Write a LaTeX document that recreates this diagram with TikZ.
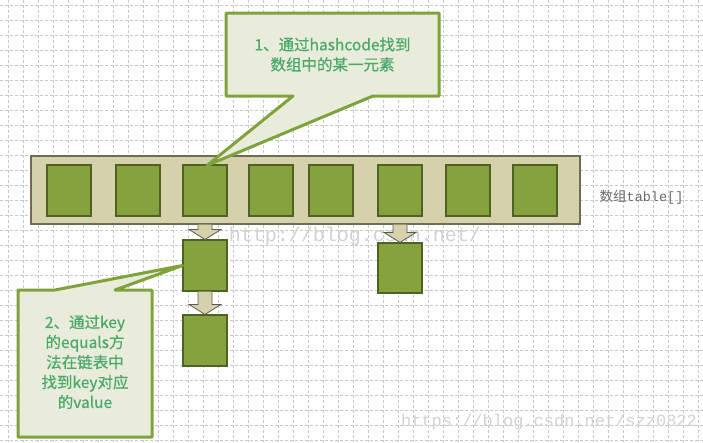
\documentclass[tikz,border=0pt]{standalone}
\usepackage{fontspec}
\newfontfamily\cjk{Noto Sans CJK SC}
\newfontfamily\cjkb[FakeBold=0.6]{Noto Sans CJK SC}
\newfontfamily\lmono{Liberation Mono}
\usetikzlibrary{calc}
\definecolor{gridc}{HTML}{C8C8C8}
\definecolor{tanfill}{HTML}{D5D2AB}
\definecolor{tanline}{HTML}{6E6C55}
\definecolor{cellfill}{HTML}{85A23F}
\definecolor{cellline}{HTML}{4E6222}
\definecolor{callfill}{HTML}{E9ECDA}
\definecolor{callline}{HTML}{7FA33B}
\definecolor{calltext}{HTML}{4AA96A}
\definecolor{labeltext}{HTML}{6A6A6A}
\definecolor{wmtext}{HTML}{D2D2D2}
\tikzset{
  gridline/.style={draw=gridc, line width=0.8pt, dash pattern=on 3pt off 2pt},
  arraybox/.style={rectangle, draw=tanline, fill=tanfill, line width=1.2pt, inner sep=0pt},
  cell/.style={rectangle, draw=cellline, fill=cellfill, line width=1.1pt, inner sep=0pt, minimum width=44pt, minimum height=51pt},
  barrow/.style={draw=gray!70!black, fill=tanfill, line width=0.8pt, line join=miter},
  callout/.style={draw=callline, fill=callfill, line width=3pt, line join=round},
  calltxt/.style={text=calltext, align=center, font=\cjkb\fontsize{15.5}{20}\selectfont, inner sep=0pt},
  wm/.style={text=wmtext, inner sep=0pt}
}
\newcommand\blockarrow[2]{%
  \draw[barrow] let \p1=(#1), \p2=(#2) in
    (\x1-7pt,\y1) -- (\x1-7pt,\y2+10pt) -- (\x1-16pt,\y2+10pt) -- (\x1,\y2)
    -- (\x1+16pt,\y2+10pt) -- (\x1+7pt,\y2+10pt) -- (\x1+7pt,\y1);}
\begin{document}
\begin{tikzpicture}[x=1pt,y=-1pt]
\useasboundingbox (0,0) rectangle (703,442);
\fill[white] (0,0) rectangle (703,442);
% grid
\foreach \gx in {8,23,...,700} \draw[gridline] (\gx,0) -- (\gx,442);
\foreach \gy in {5,20,...,440} \draw[gridline] (0,\gy) -- (703,\gy);
% watermark bottom
\node[wm, font=\lmono\fontsize{17}{17}\selectfont] (wm2) at (549,422) {https://blog.csdn.net/szz0822};
% array
\node[arraybox, minimum width=549pt, minimum height=68pt] (arr) at (305.5,190) {};
\foreach \i/\cx in {1/69,2/138,3/205,4/271,5/331,6/400,7/468,8/535}
  \node[cell] (c\i) at (\cx,190.5) {};
\node[text=labeltext, inner sep=0pt, font=\fontsize{13.5}{16}\selectfont] (lbl) at (641.5,197) {{\cjk 数组}{\lmono table[]}};
% watermark middle
\node[wm, font=\lmono\fontsize{20}{20}\selectfont] (wm1) at (355,236) {http://blog.csdn.net/};
% chains
\node[cell] (l1) at (205,265.5) {};
\node[cell] (l2) at (205,340.5) {};
\node[cell, minimum height=50pt] (l3) at (400,268) {};
\blockarrow{c3.south |- arr.south}{l1.north}
\blockarrow{l1.south}{l2.north}
\blockarrow{c6.south |- arr.south}{l3.north}
% callout 1
\draw[callout] (226,13) -- (439,13) -- (439,96) -- (373,96) -- ($(c3.north)+(2,1)$) -- (293,96) -- (226,96) -- cycle;
\node[calltxt] (t1) at (332.5,54.5) {1、通过hashcode找到\\数组中的某一元素};
% callout 2
\draw[callout] (18,290) -- (55,290) -- (l1.west) -- (115,290) -- (152,290) -- (152,437) -- (18,437) -- cycle;
\node[calltxt] (t2) at (85,362) {2、通过key\\的equals方\\法在链表中\\找到key对应\\的value};
\end{tikzpicture}
\end{document}
